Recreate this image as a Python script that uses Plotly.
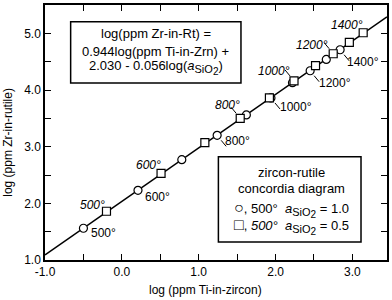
import plotly.graph_objects as go

# ---------------- data ----------------
temps = [500, 600, 700, 800, 900, 1000, 1100, 1200, 1300, 1400]
# aSiO2 = 1.0 (circles)
ti_a10 = [-0.50, 0.21, 0.78, 1.24, 1.62, 1.94, 2.22, 2.45, 2.66, 2.84]
zr_a10 = [1.56, 2.23, 2.77, 3.20, 3.56, 3.86, 4.13, 4.34, 4.54, 4.71]
# aSiO2 = 0.5 (squares)
ti_a05 = [-0.20, 0.51, 1.08, 1.54, 1.92, 2.24, 2.52, 2.75, 2.96, 3.14]
zr_a05 = [1.86, 2.53, 3.07, 3.50, 3.86, 4.16, 4.43, 4.64, 4.84, 5.01]
# concordia line
line_x = [-1.0, 3.45]
line_y = [1.09, 5.29]

x_tickvals = [-1.0, 0.0, 1.0, 2.0, 3.0]
x_ticktext = ["-1.0", "0.0", "1.0", "2.0", "3.0"]
x_minorvals = [-0.5, 0.5, 1.5, 2.5]
y_tickvals = [1.0, 2.0, 3.0, 4.0, 5.0]
y_ticktext = ["1.0", "2.0", "3.0", "4.0", "5.0"]
y_minorvals = [1.5, 2.5, 3.5, 4.5]

circle_labels = [500, 600, 800, 1000, 1200, 1400]
square_labels = [500, 600, 800, 1000, 1200, 1400]

FONT = "Liberation Sans, Arial, Helvetica, sans-serif"

fig = go.Figure()
fig.add_trace(go.Scatter(x=line_x, y=line_y, mode="lines",
                         line=dict(color="black", width=1.6), hoverinfo="skip"))
fig.add_trace(go.Scatter(x=ti_a10, y=zr_a10, mode="markers",
                         marker=dict(symbol="circle", size=8, color="white",
                                     line=dict(color="black", width=1.2))))
fig.add_trace(go.Scatter(x=ti_a05, y=zr_a05, mode="markers",
                         marker=dict(symbol="square", size=8, color="white",
                                     line=dict(color="black", width=1.2))))

ann = []
shapes = []


def leader(x, y, sx, sy):
    # short tick from the marker towards its label (pixel offsets)
    shapes.append(dict(type="line", xref="x", yref="y",
                       xsizemode="pixel", ysizemode="pixel",
                       xanchor=x, yanchor=y,
                       x0=4 * sx, x1=9 * sx, y0=5 * sy, y1=11 * sy,
                       line=dict(color="black", width=1)))


# circle labels (upright, below-right)
c_style = {500: (6, -5, False), 600: (5, -7, False), 800: (6, -6, True),
           1000: (7, -9, True), 1200: (7, -12, True), 1400: (5, -12, True)}
for t in circle_labels:
    i = temps.index(t)
    dx, dy, lead = c_style[t]
    ann.append(dict(x=ti_a10[i], y=zr_a10[i], text=f"{t}°", showarrow=False,
                    xanchor="left", yanchor="middle", xshift=dx, yshift=dy,
                    font=dict(size=12, color="black", family=FONT)))
    if lead:
        leader(ti_a10[i], zr_a10[i], 1, -1)
# square labels (italic, above-left)
s_style = {500: (1, 6, False), 600: (2, 8, False), 800: (2, 13, True),
           1000: (-2, 10, True), 1200: (-3, 9, True), 1400: (2, 8, False)}
for t in square_labels:
    i = temps.index(t)
    dx, dy, lead = s_style[t]
    ann.append(dict(x=ti_a05[i], y=zr_a05[i], text=f"<i>{t}°</i>", showarrow=False,
                    xanchor="right", yanchor="middle", xshift=dx, yshift=dy,
                    font=dict(size=12, color="black", family=FONT)))
    if lead:
        leader(ti_a05[i], zr_a05[i], -1, 1)

ASIO2 = ("<i>a</i><sub><span style='font-size:11px'>SiO</span>"
         "<sub><span style='font-size:10px'>2</span></sub></sub>")

# equation box text
eq_lines = ["log(ppm Zr-in-Rt) =",
            "0.944log(ppm Ti-in-Zrn) +",
            "2.030 - 0.056log(" + ASIO2 + ")"]
eq_y = [0.888, 0.818, 0.755]
for txt, yy in zip(eq_lines, eq_y):
    ann.append(dict(x=0.324, y=yy, xref="paper", yref="paper", text=txt,
                    showarrow=False, xanchor="center", yanchor="middle",
                    font=dict(size=13, color="black", family=FONT)))

# key box text
SYM = "<span style='font-size:16px'>{}</span>"
key_lines = ["zircon-rutile", "concordia diagram",
             SYM.format("○") + ", 500°  " + ASIO2 + " = 1.0",
             SYM.format("□") + ", <i>500°</i>  " + ASIO2 + " = 0.5"]
key_y = [0.344, 0.280, 0.198, 0.130]
for txt, yy in zip(key_lines, key_y):
    ann.append(dict(x=0.721, y=yy, xref="paper", yref="paper", text=txt,
                    showarrow=False, xanchor="center", yanchor="middle",
                    font=dict(size=13, color="black", family=FONT)))

# axis titles
ann.append(dict(x=0.47, y=-0.117, xref="paper", yref="paper",
                text="log (ppm Ti-in-zircon)", showarrow=False,
                xanchor="center", yanchor="middle",
                font=dict(size=12, color="black", family=FONT)))
ann.append(dict(x=-0.108, y=0.46, xref="paper", yref="paper",
                text="log (ppm Zr-in-rutile)", showarrow=False, textangle=-90,
                xanchor="center", yanchor="middle",
                font=dict(size=12, color="black", family=FONT)))

shapes += [
    dict(type="rect", xref="paper", yref="paper", x0=0.075, x1=0.573,
         y0=0.694, y1=0.934, line=dict(color="black", width=1.5), fillcolor="white",
         layer="below"),
    dict(type="rect", xref="paper", yref="paper", x0=0.507, x1=0.924,
         y0=0.071, y1=0.405, line=dict(color="black", width=1.5), fillcolor="white",
         layer="below"),
]

axis_common = dict(showline=True, linecolor="black", linewidth=1.5, mirror="ticks",
                   ticks="inside", ticklen=6, tickwidth=1.3, tickcolor="black",
                   showgrid=False, zeroline=False,
                   tickfont=dict(size=12, color="black", family=FONT))

fig.update_layout(
    width=392, height=300,
    margin=dict(l=45, r=3, t=3, b=40),
    paper_bgcolor="white", plot_bgcolor="white",
    showlegend=False,
    xaxis=dict(range=[-1.0, 3.45], tickmode="array", tickvals=x_tickvals,
               ticktext=x_ticktext,
               minor=dict(tickmode="array", tickvals=x_minorvals, ticks="inside",
                          ticklen=6, tickwidth=1.3, tickcolor="black", showgrid=False),
               **axis_common),
    yaxis=dict(range=[1.0, 5.5], tickmode="array", tickvals=y_tickvals,
               ticktext=y_ticktext,
               minor=dict(tickmode="array", tickvals=y_minorvals, ticks="inside",
                          ticklen=6, tickwidth=1.3, tickcolor="black", showgrid=False),
               **axis_common),
    annotations=ann,
    shapes=shapes,
    font=dict(family=FONT, color="black"),
)

fig.write_html("out.html", config={"displayModeBar": False},
               post_script="document.body.style.margin='0';document.body.style.overflow='hidden';")
